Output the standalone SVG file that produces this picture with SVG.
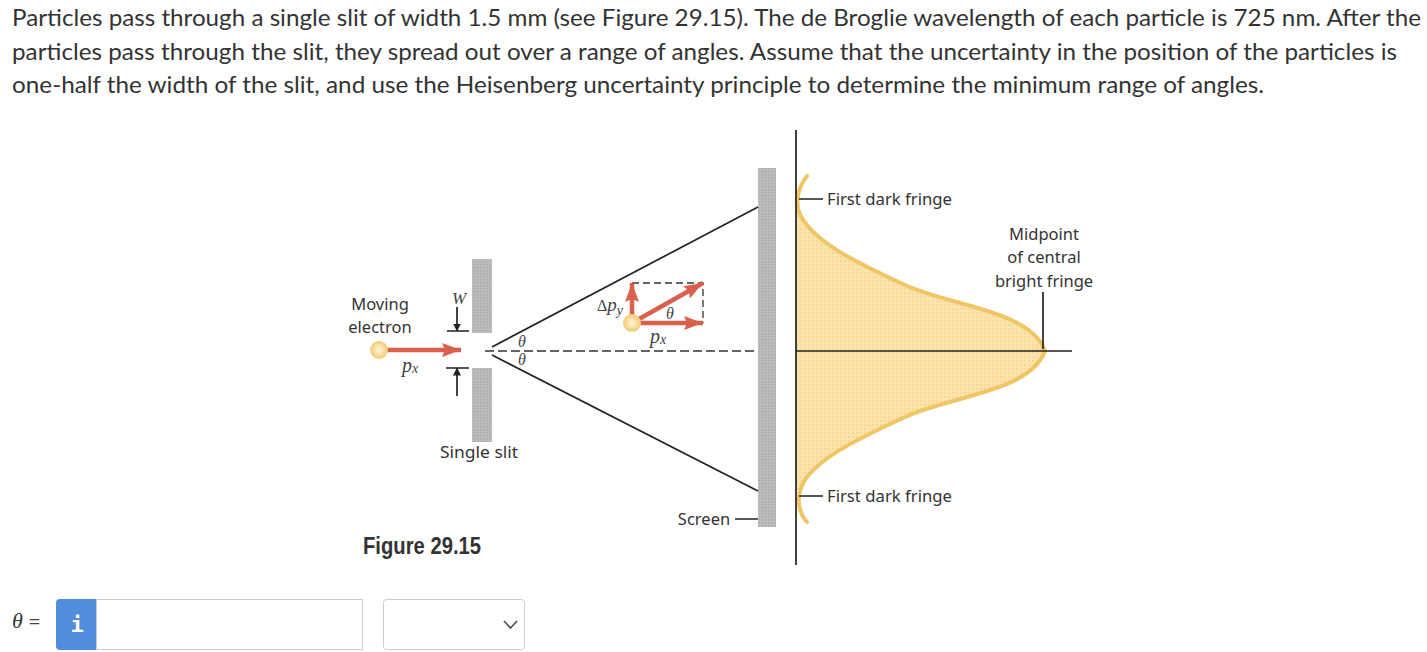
<svg xmlns="http://www.w3.org/2000/svg" width="1427" height="652" viewBox="0 0 1427 652">
<style>
.q{font-family:Lato,"Liberation Sans",sans-serif;font-size:24px;fill:#333}
.l{font-family:"Noto Sans","Liberation Sans",sans-serif;font-size:16.5px;fill:#333}
.m{font-family:"Liberation Serif",serif;font-style:italic;fill:#444}
.k{stroke:#222;stroke-width:1.7;fill:none}
.d{stroke:#333;stroke-width:1.5;stroke-dasharray:9 4;fill:none}
.r{stroke:#d9604c;stroke-width:4.5;fill:none}
.cv{stroke:#efc566;stroke-width:4;fill:none;stroke-linecap:round}
</style>
<defs>
<pattern id="gray" width="3" height="3" patternUnits="userSpaceOnUse"><rect width="3" height="3" fill="#bdbdbd"/><rect width="1.5" height="1.5" fill="#a9a9ad"/></pattern>
<pattern id="tan" width="4" height="4" patternUnits="userSpaceOnUse"><rect width="4" height="4" fill="#fbe3ae"/><rect width="2" height="2" fill="#f9d894"/></pattern>
<radialGradient id="ball"><stop offset="0" stop-color="#fff6dc"/><stop offset="1" stop-color="#f2ca72"/></radialGradient>
<marker id="rh" markerUnits="userSpaceOnUse" markerWidth="20" markerHeight="14" refX="19" refY="7" orient="auto"><path d="M0 0L19 7L0 14L3 7Z" fill="#d9604c"/></marker>
<marker id="kh" markerUnits="userSpaceOnUse" markerWidth="8" markerHeight="10" refX="7.5" refY="4" orient="auto"><path d="M0 0L8 4L0 8Z" fill="#222"/></marker>
</defs>

<g id="question">
<text class="q" x="12" y="25.500" textLength="1409" lengthAdjust="spacingAndGlyphs">Particles pass through a single slit of width 1.5 mm (see Figure 29.15). The de Broglie wavelength of each particle is 725 nm. After the</text>
<text class="q" x="12" y="60" textLength="1385" lengthAdjust="spacingAndGlyphs">particles pass through the slit, they spread out over a range of angles. Assume that the uncertainty in the position of the particles is</text>
<text class="q" x="12" y="93" textLength="1252" lengthAdjust="spacingAndGlyphs">one-half the width of the slit, and use the Heisenberg uncertainty principle to determine the minimum range of angles.</text>
</g>

<g id="intensity-curve">
<path d="M796 205L799 212C810 240 855 262 905 285C950 306 1030 310 1045 351C1030 392 950 396 905 417C855 440 810 462 801 488L796 492Z" fill="url(#tan)"/>
<path class="cv" d="M807 176C799 186 795 200 799 212C810 240 855 262 905 285C950 306 1030 310 1045 351C1030 392 950 396 905 417C855 440 810 462 801 488C797 498 798 512 807 522"/>
</g>

<g id="screen"><rect x="758" y="168" width="18" height="359" fill="url(#gray)"/></g>
<g id="slit-top"><rect x="472" y="259" width="20" height="74" fill="url(#gray)"/></g>
<g id="slit-bottom"><rect x="472" y="368" width="20" height="74" fill="url(#gray)"/></g>

<g id="connectors">
<path class="k" d="M796 130V565M796 351H1072M1043 292V349"/>
<path class="k" d="M492 347L758 207M492 355L758 491"/>
<path class="d" d="M485 351H758"/>
<path class="k" d="M799 199H823M799 496H823M735 519H758"/>
<path class="k" d="M447 331H469M446 368H469"/>
<path class="k" d="M457 307V331" marker-end="url(#kh)"/>
<path class="k" d="M457 396V368" marker-end="url(#kh)"/>
<path class="d" style="stroke-width:1.3;stroke-dasharray:7 4" d="M632 283H703V323"/>
<path class="r" d="M385 350H461" marker-end="url(#rh)"/>
<path class="r" d="M632 323V283" marker-end="url(#rh)"/>
<path class="r" d="M632 323H703" marker-end="url(#rh)"/>
<path class="r" d="M632 323L703 283" marker-end="url(#rh)"/>
</g>

<g id="electron-moving"><circle cx="379" cy="350" r="9" fill="url(#ball)"/></g>
<g id="electron-vector"><circle cx="632" cy="323" r="9" fill="url(#ball)"/></g>

<g id="labels">
<text class="l" x="380" y="310" text-anchor="middle">Moving</text>
<text class="l" x="380" y="333" text-anchor="middle">electron</text>
<text class="m" x="402" y="372" font-size="20">p<tspan font-size="14" dy="1">x</tspan></text>
<text class="m" x="452" y="304" font-size="17">W</text>
<text class="l" x="440" y="458" textLength="78" lengthAdjust="spacingAndGlyphs">Single slit</text>
<text class="m" x="522" y="347" font-size="16" text-anchor="middle">θ</text>
<text class="m" x="522" y="365" font-size="16" text-anchor="middle">θ</text>
<text class="m" x="597" y="311" font-size="19"><tspan font-style="normal" font-size="16">Δ</tspan>p<tspan font-size="14" dy="4">y</tspan></text>
<text class="m" x="670" y="319" font-size="16" text-anchor="middle">θ</text>
<text class="m" x="650" y="343" font-size="20">p<tspan font-size="14" dy="1">x</tspan></text>
<text class="l" x="827" y="205" textLength="125" lengthAdjust="spacingAndGlyphs">First dark fringe</text>
<text class="l" x="827" y="502" textLength="125" lengthAdjust="spacingAndGlyphs">First dark fringe</text>
<text class="l" x="1044" y="240" text-anchor="middle">Midpoint</text>
<text class="l" x="1044" y="263" text-anchor="middle">of central</text>
<text class="l" x="1044" y="287" text-anchor="middle">bright fringe</text>
<text class="l" x="704" y="525" text-anchor="middle">Screen</text>
<text x="363" y="554" font-family="'Liberation Sans',sans-serif" font-size="23.500" font-weight="bold" fill="#333" textLength="118" lengthAdjust="spacingAndGlyphs">Figure 29.15</text>
</g>

<g id="answer">
<text x="12" y="628" font-family="'Liberation Serif',serif" font-style="italic" font-size="22" fill="#333">θ</text>
<text x="28" y="629" font-family="Lato,sans-serif" font-size="22" fill="#444">=</text>
<rect x="96.500" y="599.500" width="266" height="50" fill="#fff" stroke="#ccc"/>
<path d="M60 599H96V650H60a4 4 0 0 1-4-4V603a4 4 0 0 1 4-4Z" fill="#528ddd"/>
<text x="77" y="632" text-anchor="middle" font-family="'DejaVu Sans Mono',monospace" font-weight="bold" font-size="22" fill="#fff">i</text>
<rect x="383.500" y="599.500" width="141" height="50" rx="3" fill="#fff" stroke="#ccc"/>
<path d="M504 621L510.500 628L517 621" fill="none" stroke="#555" stroke-width="1.800"/>
</g>
</svg>
